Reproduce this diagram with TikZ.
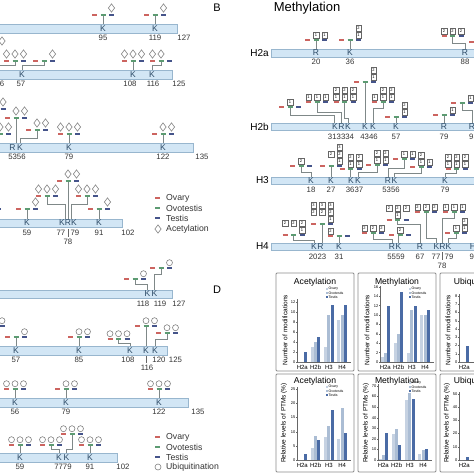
\documentclass[tikz,border=0pt]{standalone}
\usepackage{fontspec}
\setmainfont{Liberation Sans}
\usetikzlibrary{shapes.geometric}

\definecolor{ovred}{HTML}{CC6460}
\definecolor{otgreen}{HTML}{5C9B72}
\definecolor{tsblue}{HTML}{45548A}
\definecolor{stemgray}{HTML}{7F8888}
\definecolor{barfill}{HTML}{D2E6F5}
\definecolor{barline}{HTML}{98B6CE}
\definecolor{resblue}{HTML}{2C4A66}
\definecolor{ovbar}{HTML}{C6D2E2}
\definecolor{otbar}{HTML}{ABBDD4}
\definecolor{tsbar}{HTML}{4A6BA5}

\tikzset{
	hist/.style={draw=barline, fill=barfill, line width=0.8},
	res/.style={text=resblue, font=\fontsize{8.5}{8.5}\selectfont, inner sep=0},
	num/.style={text=black!80, font=\fontsize{7.8}{7.8}\selectfont, inner sep=0},
	stem/.style={draw=stemgray, line width=0.8},
	ovd/.style={draw=ovred, line width=1.2},
	otd/.style={draw=otgreen, line width=1.2},
	tsd/.style={draw=tsblue, line width=1.2},
	acd/.style={diamond, draw=gray, line width=0.6, minimum width=6.5, minimum height=8.5, inner sep=0},
	ubd/.style={circle, draw=gray, line width=0.6, minimum size=6, inner sep=0},
	mbd/.style={draw=black!60, fill=white, line width=0.5, minimum width=5.5, minimum height=6.5, inner sep=0, font=\fontsize{4}{4}\selectfont},
	legl/.style={anchor=west, inner sep=0, text=black!80, font=\fontsize{8.7}{8.7}\selectfont},
	plab/.style={inner sep=0, font=\fontsize{11}{11}\selectfont},
	ptitle/.style={inner sep=0, font=\fontsize{13}{13}\selectfont},
	hlab/.style={anchor=east, inner sep=0, font=\fontsize{10}{10}\selectfont},
	chartbox/.style={draw=black!45, line width=0.8, rounded corners=1},
	ctitle/.style={inner sep=0, font=\fontsize{8.6}{8.6}\selectfont},
	axisl/.style={draw=black!60, line width=0.4},
	tickl/.style={anchor=east, inner sep=0, font=\fontsize{4}{4}\selectfont},
	grpl/.style={inner sep=0, font=\fontsize{6}{6}\selectfont},
	keyl/.style={anchor=west, inner sep=0, font=\fontsize{3.5}{3.5}\selectfont},
	ylab/.style={rotate=90, inner sep=0, font=\fontsize{6.5}{6.5}\selectfont}
}

\newcommand\trip[2]{%
	\draw[ovd] (#1-11,#2) -- (#1-6,#2);
	\draw[otd] (#1-2.5,#2) -- (#1+2.5,#2);
	\draw[tsd] (#1+6,#2) -- (#1+11,#2);
}
\newcommand\dias[2]{\foreach \x in {#1} \node[acd] at (\x,#2-7) {};}
\newcommand\ubcs[2]{\foreach \x in {#1} \node[ubd] at (\x,#2-5.3) {};}
\newcommand\mbxs[2]{\foreach \x/\lv/\nv in {#1} \node[mbd] at (\x,#2-5-7*\lv) {\nv};}
\newcommand\chart[6]{%
	\draw[axisl] (#1,#5) -- (#1,#2) -- (#1+54,#2);
	\foreach \tk in {#4} {
		\draw[axisl] (#1,#2-#3*\tk) -- (#1-1,#2-#3*\tk);
		\node[tickl] at (#1-1.5,#2-#3*\tk) {\tk};
	}
	\foreach \g/\va/\vb/\vc [count=\i from 0] in {#6} {
		\fill[ovbar] (#1+0.5+13.3*\i,#2) rectangle ++(3,-#3*\va);
		\fill[otbar] (#1+3.8+13.3*\i,#2) rectangle ++(3,-#3*\vb);
		\fill[tsbar] (#1+7.1+13.3*\i,#2) rectangle ++(3,-#3*\vc);
		\node[grpl] at (#1+5.3+13.3*\i,#2+5) {\g};
	}
}
\newcommand\keys[2]{%
	\foreach \cl/\tx [count=\i from 0] in {ovbar/Ovary,otbar/Ovotestis,tsbar/Testis} {
		\fill[\cl] (#1-1,#2-1+4*\i) rectangle ++(2,2);
		\node[keyl] at (#1+1.5,#2+4*\i) {\tx};
	}
}

\begin{document}
\begin{tikzpicture}[x=1pt,y=-1pt]
	\useasboundingbox (0,0) rectangle (474,474);

	\draw[hist] (-5,24) rectangle (177,33);
	\draw[hist] (-5,70) rectangle (172,79);
	\draw[hist] (-5,143) rectangle (193,152);
	\draw[hist] (-5,219) rectangle (122,227);
	\draw[stem] (103,24) -- (103,15);
	\draw[stem] (155,24) -- (155,15);
	\draw[stem] (-5,65) -| (15,61);
	\draw[stem] (22,70) |- (44,65) -- (44,61);
	\draw[stem] (133,70) -- (133,61);
	\draw[stem] (152,70) |- (161,65) -- (161,61);
	\draw[stem] (16,143) -- (16,118);
	\draw[stem] (20,143) |- (37,138) -- (37,130);
	\draw[stem] (69,143) -- (69,134);
	\draw[stem] (163,143) -- (163,134);
	\draw[stem] (27,219) -- (27,209);
	\draw[stem] (65,219) |- (47,204) -- (47,196);
	\draw[stem] (68,219) -- (68,181);
	\draw[stem] (71,219) |- (87,204) -- (87,196);
	\draw[stem] (99,219) -- (99,209);
	\foreach \x/\y in {103/15,155/15,15/61,44/61,133/61,161/61,16/118,37/130,69/134,163/134,27/209,99/209,47/196,68/181,87/196} \trip{\x}{\y};
	\draw[tsd] (0.5,109) -- (5.5,109);
	\draw[otd] (-2.5,134) -- (2.5,134);
	\draw[tsd] (6,134) -- (11,134);
	\draw[tsd] (-4,209) -- (1,209);
	\dias{111.5,163.5}{15}
	\dias{2}{48}
	\dias{6.5,15,23.5,52.5,124.5,133,141.5,152.5,161}{61}
	\dias{3}{109}
	\dias{16,24.5}{118}
	\dias{37,45.5}{130}
	\dias{0,8.5,60.5,69,77.5,163,171.5}{134}
	\dias{68,76.5}{181}
	\dias{38.5,47,55.5,78.5,87,95.5}{196}
	\dias{35.5,107.5}{209}
	\foreach \x in {103,155} \node[res] at (\x,28.5) {K};
	\foreach \x in {22,133,152} \node[res] at (\x,74.5) {K};
	\foreach \x/\rl in {12.5/R,20/K,69/K,163/K} \node[res] at (\x,147.5) {\rl};
	\foreach \x/\rl in {27/K,62/K,68/R,74/K,99/K} \node[res] at (\x,223) {\rl};
	\foreach \x/\nm in {103/95,155/119,184/127} \node[num] at (\x,38) {\nm};
	\foreach \x/\nm in {2/6,21/57,130/108,153/116,179/125} \node[num] at (\x,84) {\nm};
	\foreach \x/\nm in {17/5356,69/79,163/122,202/135} \node[num] at (\x,157) {\nm};
	\foreach \x/\nm in {27/59,61/77,75/79,99/91,128/102} \node[num] at (\x,233) {\nm};
	\draw[axisl] (68,229) -- (68,237);
	\node[num] at (68,242) {78};
	\draw[ovd] (155,198) -- (160,198);
	\node[legl] at (166,198) {Ovary};
	\draw[otd] (155,208) -- (160,208);
	\node[legl] at (166,208) {Ovotestis};
	\draw[tsd] (155,218) -- (160,218);
	\node[legl] at (166,218) {Testis};
	\node[acd] at (158,229) {};
	\node[legl] at (166,229) {Acetylation};

	\draw[hist] (-5,290) rectangle (172,298);
	\draw[hist] (-5,346) rectangle (167,355);
	\draw[hist] (-5,398) rectangle (188,407);
	\draw[hist] (-5,453) rectangle (117,462);
	\draw[stem] (147.5,290) |- (135,284) -- (135,279);
	\draw[stem] (154.5,290) |- (161,274) -- (161,268);
	\draw[stem] (16,346) -- (16,337);
	\draw[stem] (79,346) -- (79,337);
	\draw[stem] (130,346) |- (118.5,343) -- (118.5,339);
	\draw[stem] (146,346) -- (146,326);
	\draw[stem] (155,346) |- (167,339) -- (167,333);
	\draw[stem] (15,398) -- (15,389);
	\draw[stem] (66,398) -- (66,389);
	\draw[stem] (159,398) -- (159,389);
	\draw[stem] (20,453) -- (20,445);
	\draw[stem] (59,453) |- (51,449) -- (51,445);
	\draw[stem] (66.5,453) |- (72,449) -- (72,434);
	\draw[stem] (90,453) -- (90,445);
	\foreach \x/\y in {135/279,161/268,16/337,79/337,118.5/339,146/326,167/333,15/389,66/389,159/389,20/445,51/445,72/434,90/445} \trip{\x}{\y};
	\draw[tsd] (-0.5,326) -- (4.5,326);
	\ubcs{143.5}{279}
	\ubcs{169.5}{268}
	\ubcs{2,146,154.5}{326}
	\ubcs{167,175.5}{333}
	\ubcs{24.5,79,87.5}{337}
	\ubcs{110,118.5,127}{339}
	\ubcs{6.5,15,23.5,66,74.5,150.5,159,167.5}{389}
	\ubcs{63.5,72,80.5}{434}
	\ubcs{11.5,20,28.5,42.5,51,59.5,81.5,90,98.5}{445}
	\foreach \x in {147.5,154.5} \node[res] at (\x,294) {K};
	\foreach \x in {16,79,130,146,155} \node[res] at (\x,350.5) {K};
	\foreach \x in {15,66,159} \node[res] at (\x,402.5) {K};
	\foreach \x in {20,59,66.5,90} \node[res] at (\x,457.5) {K};
	\foreach \x/\nm in {143/118,160/119,179/127} \node[num] at (\x,304) {\nm};
	\foreach \x/\nm in {16/57,79/85,128/108,159/120,175.5/125} \node[num] at (\x,360) {\nm};
	\draw[axisl] (146,356) -- (146,363);
	\node[num] at (147,368) {116};
	\foreach \x/\nm in {15/56,66/79,159/122,198/135} \node[num] at (\x,412) {\nm};
	\foreach \x/\nm in {20/59,63/7779,90/91,123/102} \node[num] at (\x,467) {\nm};
	\draw[ovd] (155,437) -- (160,437);
	\node[legl] at (166,437) {Ovary};
	\draw[otd] (155,447) -- (160,447);
	\node[legl] at (166,447) {Ovotestis};
	\draw[tsd] (155,457) -- (160,457);
	\node[legl] at (166,457) {Testis};
	\node[ubd] at (158,467) {};
	\node[legl] at (166,467) {Ubiquitination};

	\node[plab] (labB) at (217,8) {B};
	\node[plab] (labD) at (217,290) {D};
	\node[ptitle] (methtitle) at (307,8) {Methylation};
	\node[hlab] at (269,53) {H2a};
	\node[hlab] at (269,126.5) {H2b};
	\node[hlab] at (269,180.5) {H3};
	\node[hlab] at (269,246.5) {H4};
	\draw[hist] (271,49) rectangle (480,57);
	\draw[hist] (271,123) rectangle (480,130);
	\draw[hist] (271,177) rectangle (480,184);
	\draw[hist] (271,243) rectangle (480,250);
	\draw[stem] (316,49) -- (316,40);
	\draw[stem] (350,49) -- (350,40);
	\draw[stem] (465,49) |- (452.5,43) -- (452.5,36);
	\draw[stem] (290,107) -- (290,115) -| (334,123);
	\draw[stem] (317,102) -- (317,112) -| (341,123);
	\draw[stem] (344.5,102) -- (344.5,118) -| (348,123);
	\draw[stem] (365,123) -- (365,82);
	\draw[stem] (373,123) |- (383,108) -- (383,102);
	\draw[stem] (396,123) -- (396,117);
	\draw[stem] (444,123) -- (444,115);
	\draw[stem] (472,123) |- (462,110) -- (462,103);
	\draw[stem] (311,177) |- (301,172) -- (301,166);
	\draw[stem] (331,177) -- (331,166);
	\draw[stem] (350.5,177) -- (350.5,169);
	\draw[stem] (358,177) |- (377,172) -- (377,165);
	\draw[stem] (388,177) |- (404,168) -- (404,159);
	\draw[stem] (394.5,177) |- (421,173) -- (421,167);
	\draw[stem] (445,177) |- (456.5,173) -- (456.5,169);
	\draw[stem] (314,243) |- (293.5,240) -- (293.5,235);
	\draw[stem] (322,243) -- (322,224);
	\draw[stem] (339,243) -- (339,236);
	\draw[stem] (392,243) |- (373,239) -- (373,233);
	\draw[stem] (398.5,243) -- (398.5,235);
	\draw[stem] (420,243) |- (397.5,224) -- (397.5,220);
	\draw[stem] (436.5,243) |- (426,238) -- (426,212);
	\draw[stem] (442.5,243) |- (454,218) -- (454,212);
	\draw[stem] (448.5,243) |- (456,238) -- (456,233);
	\foreach \x/\y in {316/40,350/40,452.5/36,290/107,317/102,344.5/102,365/82,383/102,396/117,444/115,462/103,301/166,331/166,350.5/169,377/165,404/159,421/167,456.5/169,293.5/235,322/224,339/236,373/233,400/235,397.5/220,426/212,454/212,456/233} \trip{\x}{\y};
	\draw[ovd] (469,42) -- (476,42);
	\mbxs{316/0/1,324.5/0/1,358.5/0/1,358.5/1/2}{40}
	\mbxs{444/0/2,452.5/0/2,461/0/2}{36}
	\mbxs{290/0/1}{107}
	\mbxs{308.5/0/1,317/0/1,325.5/0/1}{102}
	\mbxs{336/0/1,344.5/0/1,353/0/1,336/1/2,344.5/1/2,353/1/2}{102}
	\mbxs{373.5/0/1,373.5/1/2}{82}
	\mbxs{374.5/0/1,383/0/1,391.5/0/1,383/1/2,391.5/1/2}{102}
	\mbxs{404.5/0/1,404.5/1/2}{117}
	\mbxs{452.5/0/1}{115}
	\mbxs{470.5/0/1}{103}
	\mbxs{301/0/2}{166}
	\mbxs{331/1/2,339.5/0/1,339.5/1/2,339.5/2/3}{166}
	\mbxs{350.5/0/1,359/0/1,350.5/1/2,359/1/2}{169}
	\mbxs{377/0/1,385.5/0/1,377/1/2,385.5/1/2}{165}
	\mbxs{404/0/1,412.5/0/1}{159}
	\mbxs{421/0/1,421/1/2,429.5/0/1}{167}
	\mbxs{448/0/1,456.5/0/1,465/0/1,448/1/2,456.5/1/2,465/1/2}{169}
	\mbxs{285/1/2,293.5/1/2,302/0/1,302/1/2}{235}
	\mbxs{313.5/1/2,313.5/2/3,322/1/2,322/2/3,330.5/0/1,330.5/1/2,330.5/2/3}{224}
	\mbxs{330.5/0/2}{236}
	\mbxs{364.5/0/2,373/0/2,381.5/0/2}{233}
	\mbxs{400/0/2}{235}
	\mbxs{389/1/2,397.5/0/1,397.5/1/2,406/1/2}{220}
	\mbxs{417.5/0/2,426/0/2,434.5/0/2,445.5/0/1,454/0/1,462.5/0/1}{212}
	\mbxs{456/0/1,464.5/0/1,464.5/1/2}{233}
	\foreach \x/\rl in {316/R,350/K,465/R} \node[res] at (\x,53) {\rl};
	\foreach \x/\rl in {335/K,341.5/R,348/K,365/K,373/K,396/K,444/R,472/R} \node[res] at (\x,126.5) {\rl};
	\foreach \x/\rl in {311/K,331/K,351/K,358/K,388/R,394.5/K,445/K} \node[res] at (\x,180.5) {\rl};
	\foreach \x/\rl in {314/K,320.5/R,339/K,392/R,398.5/K,420/R,436.5/K,442.5/R,448.5/K,473/H} \node[res] at (\x,246.5) {\rl};
	\foreach \x/\nm in {316/20,350/36,465/88} \node[num] at (\x,62) {\nm};
	\foreach \x/\nm in {341/313334,369/4346,396/57,444/79,473.5/93} \node[num] at (\x,136.5) {\nm};
	\foreach \x/\nm in {311/18,331/27,354.5/3637,391/5356,445/79} \node[num] at (\x,190) {\nm};
	\foreach \x/\nm in {317.5/2023,339/31,396/5559,420/67,436/77,449/79,474/96} \node[num] at (\x,256.5) {\nm};
	\draw[axisl] (442,252) -- (442,260);
	\node[num] at (442,265.5) {78};

	\draw[chartbox] (276,273) rectangle (354,371);
	\draw[chartbox] (358,273) rectangle (436,371);
	\draw[chartbox] (440,273) rectangle (520,371);
	\draw[chartbox] (276,374) rectangle (354,472);
	\draw[chartbox] (358,374) rectangle (436,472);
	\draw[chartbox] (440,374) rectangle (520,472);
	\node[ctitle] at (315,282) {Acetylation};
	\node[ctitle] at (397,282) {Methylation};
	\node[ctitle] at (480,282) {Ubiquitination};
	\node[ctitle] at (315,381) {Acetylation};
	\node[ctitle] at (397,381) {Methylation};
	\node[ctitle] at (480,381) {Ubiquitination};
	\node[ylab] at (285,330) {Number of modifications};
	\node[ylab] at (367,330) {Number of modifications};
	\node[ylab] at (448,330) {Number of modifications};
	\node[ylab] at (284,423) {Relative levels of PTMs (\%)};
	\node[ylab] at (366,423) {Relative levels of PTMs (\%)};
	\node[ylab] at (447,423) {Relative levels of PTMs (\%)};
	\chart{297}{362}{5}{0,2,...,12}{299}{H2a/0/0/2,H2b/3/4/5,H3/3/9.5/11.5,H4/8.5/9.5/11.5}
	\chart{380}{362}{4.7}{0,2,...,16}{286}{H2a/1/2/12,H2b/4/6/15,H3/2/11/12,H4/10/10/11}
	\chart{459}{362}{8.25}{0,...,8}{294}{H2a/0/0/2}
	\chart{297}{460}{2.83}{0,5,...,25}{387}{H2a/0/0/2,H2b/4.2/8.5/7,H3/8/12/17.5,H4/7.5/18.5/9.5}
	\chart{378}{460}{1.057}{0,10,...,70}{384}{H2a/1/5/26,H2b/25/29/14,H3/57/63/58,H4/6/9/10}
	\chart{459}{460}{1.32}{0,10,...,50}{392}{H2a/0/0/2}
	\keys{327}{289}
	\keys{410}{289}
	\keys{327}{387}
	\keys{410}{383}
\end{tikzpicture}
\end{document}
